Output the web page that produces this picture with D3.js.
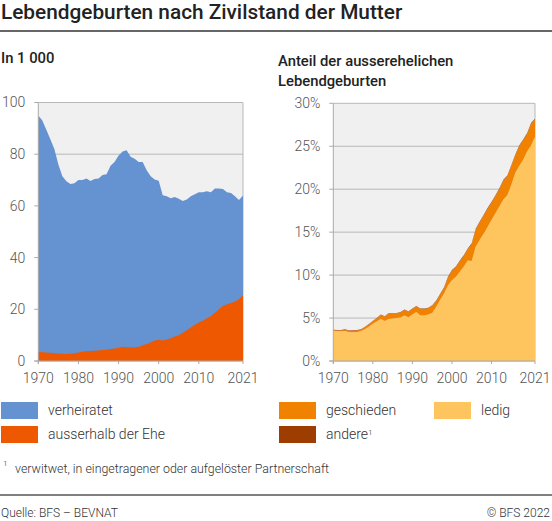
<!DOCTYPE html>
<html lang="de">
<head>
<meta charset="UTF-8">
<title>Lebendgeburten nach Zivilstand der Mutter</title>
<script src="https://d3js.org/d3.v7.min.js"></script>
<style>
  body { margin: 0; background: #fff; }
  svg { font-family: Roboto, "Noto Sans", sans-serif; }
  .tick-label { font-size: 14px; font-weight: 300; fill: #555; }
  .legend-text { font-size: 14px; font-weight: 300; fill: #333; }
</style>
</head>
<body>
<div id="chart"></div>
<script>
// Data
const years = [1970, 1971, 1972, 1973, 1974, 1975, 1976, 1977, 1978, 1979,
  1980, 1981, 1982, 1983, 1984, 1985, 1986, 1987, 1988, 1989,
  1990, 1991, 1992, 1993, 1994, 1995, 1996, 1997, 1998, 1999,
  2000, 2001, 2002, 2003, 2004, 2005, 2006, 2007, 2008, 2009,
  2010, 2011, 2012, 2013, 2014, 2015, 2016, 2017, 2018, 2019,
  2020, 2021];

// left chart, in 1 000
const verheiratet = [95.0, 93.0, 89.5, 85.8, 82.0, 76.0, 71.5, 69.5, 68.5, 68.8,
  70.0, 70.0, 70.6, 69.6, 70.4, 70.6, 72.0, 72.2, 75.5, 77.0,
  79.5, 81.0, 81.5, 79.0, 78.2, 77.0, 77.0, 73.8, 71.5, 70.2,
  69.7, 64.1, 63.7, 63.0, 63.4, 62.8, 61.9, 62.5, 63.7, 64.5,
  65.3, 65.3, 65.7, 65.3, 66.7, 66.7, 66.5, 65.3, 65.0, 63.7,
  62.3, 64.0];
const ausserhalb = [3.6, 3.4, 3.3, 3.2, 3.0, 2.9, 2.8, 2.7, 2.8, 3.0,
  3.3, 3.6, 3.9, 3.9, 4.0, 4.1, 4.3, 4.4, 4.6, 4.8,
  5.1, 5.5, 5.3, 5.2, 5.3, 5.5, 6.0, 6.6, 7.2, 7.9,
  8.2, 7.9, 8.3, 8.8, 9.5, 10.0, 10.9, 11.9, 13.0, 14.0,
  14.9, 15.6, 16.5, 17.4, 18.7, 20.0, 21.3, 22.0, 22.4, 23.0,
  23.9, 25.4];

// right chart, share in %
const ledig = [3.5, 3.45, 3.45, 3.5, 3.35, 3.35, 3.35, 3.5, 3.7, 4.0,
  4.35, 4.6, 4.9, 4.65, 4.9, 4.95, 5.0, 5.05, 5.3, 5.1,
  5.4, 5.7, 5.3, 5.3, 5.4, 5.6, 6.3, 7.1, 7.85, 8.8,
  9.4, 9.8, 10.4, 11.0, 11.7, 11.65, 13.3, 14.1, 14.8, 15.6,
  16.4, 17.2, 18.0, 18.8, 19.3, 20.5, 21.9, 22.7, 23.4, 24.4,
  25.1, 26.1];
const geschieden = [0.1, 0.1, 0.1, 0.15, 0.15, 0.2, 0.2, 0.15, 0.25, 0.25,
  0.3, 0.35, 0.45, 0.5, 0.65, 0.6, 0.55, 0.6, 0.65, 0.65,
  0.65, 0.65, 0.75, 0.75, 0.75, 0.85, 0.6, 0.6, 0.65, 0.9,
  1.1, 1.1, 1.2, 1.2, 1.3, 1.95, 2.0, 2.0, 2.1, 2.1,
  2.0, 2.0, 2.0, 2.2, 2.2, 2.2, 2.0, 2.3, 2.3, 2.0,
  2.5, 2.0];
const andere = [0.05, 0.05, 0.05, 0.05, 0.05, 0.05, 0.05, 0.05, 0.05, 0.05,
  0.05, 0.05, 0.05, 0.05, 0.05, 0.05, 0.05, 0.05, 0.05, 0.05,
  0.05, 0.05, 0.05, 0.05, 0.05, 0.05, 0.1, 0.1, 0.1, 0.1,
  0.1, 0.1, 0.1, 0.1, 0.1, 0.1, 0.1, 0.1, 0.1, 0.1,
  0.1, 0.1, 0.1, 0.1, 0.1, 0.1, 0.1, 0.1, 0.1, 0.1,
  0.1, 0.1];

const xTicks = [1970, 1980, 1990, 2000, 2010, 2021];
const leftTicks = [0, 20, 40, 60, 80, 100];
const rightTicks = [0, 5, 10, 15, 20, 25, 30];

const colors = {
  verheiratet: "#6592d0",
  ausserhalb: "#ee5800",
  geschieden: "#f18200",
  andere: "#9e3d00",
  ledig: "#fec55e"
};

const width = 552, height = 521;
const svg = d3.select("#chart").append("svg")
  .attr("width", width)
  .attr("height", height);

// Title
svg.append("text")
  .attr("x", 1).attr("y", 18.5)
  .style("font-size", "20.8px").style("font-weight", 500).style("fill", "#222")
  .text("Lebendgeburten nach Zivilstand der Mutter");
svg.append("line")
  .attr("x1", 0).attr("x2", width).attr("y1", 31).attr("y2", 31)
  .attr("stroke", "#333").attr("stroke-width", 1.5);

// Subtitles
svg.append("text").attr("x", 1).attr("y", 63)
  .style("font-size", "14.8px").style("font-weight", 500).style("fill", "#222")
  .text("In 1 000");
svg.append("text").attr("x", 278).attr("y", 66)
  .style("font-size", "14.8px").style("font-weight", 500).style("fill", "#222")
  .text("Anteil der ausserehelichen");
svg.append("text").attr("x", 278).attr("y", 86)
  .style("font-size", "14.8px").style("font-weight", 500).style("fill", "#222")
  .text("Lebendgeburten");

// draw the frame and grid of one panel
function panel(x, y, ticks) {
  const g = svg.append("g");
  const [x0, x1] = x.range();
  const [y0, y1] = y.range();
  g.append("rect")
    .attr("x", x0).attr("y", y1)
    .attr("width", x1 - x0).attr("height", y0 - y1)
    .attr("fill", "#f0f0f0");
  g.selectAll(".grid").data(ticks).enter().append("line")
    .attr("x1", x0).attr("x2", x1)
    .attr("y1", d => y(d)).attr("y2", d => y(d))
    .attr("stroke", "#b8b8b8").attr("stroke-width", 1);
  g.append("line")
    .attr("x1", x1).attr("x2", x1).attr("y1", y1).attr("y2", y0)
    .attr("stroke", "#b8b8b8");
  return g;
}

function axes(x, y, ticks, fmt) {
  const g = svg.append("g");
  const [x0, x1] = x.range();
  const [y0, y1] = y.range();
  g.append("line")
    .attr("x1", x0).attr("x2", x0).attr("y1", y1).attr("y2", y0 + 3)
    .attr("stroke", "#aaa");
  g.append("line")
    .attr("x1", x0 - 4).attr("x2", x1).attr("y1", y0).attr("y2", y0)
    .attr("stroke", "#aaa");
  g.selectAll(".yt").data(ticks).enter().append("line")
    .attr("x1", x0 - 4).attr("x2", x0)
    .attr("y1", d => y(d)).attr("y2", d => y(d))
    .attr("stroke", "#aaa");
  g.selectAll(".yl").data(ticks).enter().append("text")
    .attr("class", "tick-label")
    .attr("x", x0 - 13).attr("y", d => y(d)).attr("dy", "0.35em")
    .attr("text-anchor", "end")
    .text(fmt);
  g.selectAll(".xt").data(xTicks).enter().append("line")
    .attr("x1", d => x(d)).attr("x2", d => x(d))
    .attr("y1", y0).attr("y2", y0 + 3)
    .attr("stroke", "#aaa");
  g.selectAll(".xl").data(xTicks).enter().append("text")
    .attr("class", "tick-label")
    .attr("x", d => x(d)).attr("y", 383)
    .attr("text-anchor", "middle")
    .text(d => d);
}

// Left chart
const xL = d3.scaleLinear().domain([1970, 2021]).range([38.3, 243]);
const yL = d3.scaleLinear().domain([0, 100]).range([361, 102.5]);
const left = panel(xL, yL, leftTicks);

const areaL = (vals) => d3.area()
  .x((d, i) => xL(years[i]))
  .y0(yL(0))
  .y1((d, i) => yL(vals[i]));

left.append("path").datum(verheiratet)
  .attr("d", areaL(verheiratet))
  .attr("fill", colors.verheiratet);
left.append("path").datum(ausserhalb)
  .attr("d", areaL(ausserhalb))
  .attr("fill", colors.ausserhalb);
axes(xL, yL, leftTicks, d => d);

// Right chart (stacked)
const xR = d3.scaleLinear().domain([1970, 2021]).range([333.3, 535]);
const yR = d3.scaleLinear().domain([0, 30]).range([361, 103.3]);
const right = panel(xR, yR, rightTicks);

const table = years.map((yr, i) => ({
  year: yr, ledig: ledig[i], geschieden: geschieden[i], andere: andere[i]
}));
const stack = d3.stack().keys(["ledig", "geschieden", "andere"])(table);

right.selectAll(".layer").data(stack).enter().append("path")
  .attr("fill", d => colors[d.key])
  .attr("d", d3.area()
    .x(d => xR(d.data.year))
    .y0(d => yR(d[0]))
    .y1(d => yR(d[1])));
axes(xR, yR, rightTicks, d => d + "%");

// Legend
const legend = [
  { key: "verheiratet", label: "verheiratet", x: 1, y: 402 },
  { key: "ausserhalb", label: "ausserhalb der Ehe", x: 1, y: 426 },
  { key: "geschieden", label: "geschieden", x: 279, y: 402 },
  { key: "andere", label: "andere", x: 279, y: 426, sup: true },
  { key: "ledig", label: "ledig", x: 434, y: 402 }
];
const lg = svg.append("g").selectAll("g").data(legend).enter().append("g");
lg.append("rect")
  .attr("x", d => d.x).attr("y", d => d.y)
  .attr("width", 37).attr("height", 17)
  .attr("fill", d => colors[d.key]);
const lt = lg.append("text")
  .attr("class", "legend-text")
  .attr("x", d => d.x + 47).attr("y", d => d.y + 8.5).attr("dy", "0.35em")
  .text(d => d.label);
lt.filter(d => d.sup).append("tspan")
  .attr("dy", "-0.6em").style("font-size", "8px")
  .text("1");

// Footnote
svg.append("text").attr("x", 3).attr("y", 466)
  .style("font-size", "8px").style("font-weight", 300).style("fill", "#333")
  .text("1");
svg.append("text").attr("x", 15).attr("y", 473)
  .style("font-size", "12.4px").style("font-weight", 300).style("fill", "#333")
  .text("verwitwet, in eingetragener oder aufgelöster Partnerschaft");

// Footer
svg.append("line")
  .attr("x1", 0).attr("x2", width).attr("y1", 495).attr("y2", 495)
  .attr("stroke", "#808080").attr("stroke-width", 2);
svg.append("text").attr("x", 1).attr("y", 517)
  .style("font-size", "12px").style("font-weight", 300).style("fill", "#333")
  .text("Quelle: BFS – BEVNAT");
svg.append("text").attr("x", 550).attr("y", 517)
  .attr("text-anchor", "end")
  .style("font-size", "12px").style("font-weight", 300).style("fill", "#333")
  .text("© BFS 2022");
</script>
</body>
</html>
